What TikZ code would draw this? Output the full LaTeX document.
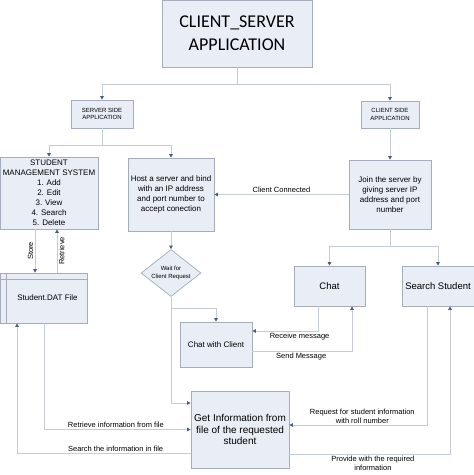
\documentclass[tikz,border=0pt]{standalone}
\usepackage{fontspec}
\setmainfont{Liberation Sans}
\newfontfamily\titlefont{Carlito}
\usepackage{tikz}
\usetikzlibrary{arrows.meta, shapes.geometric}
\definecolor{boxfill}{RGB}{232, 237, 246}
\definecolor{boxline}{RGB}{165, 172, 188}
\definecolor{flowline}{RGB}{196, 204, 218}
\definecolor{tipblue}{RGB}{72, 92, 132}

\begin{document}
\begin{tikzpicture}[
  x=1pt, y=-1pt,
  box/.style={rectangle, draw=boxline, fill=boxfill, line width=0.7pt,
              inner sep=1pt, align=center, font=\fontsize{8}{10}\selectfont},
  small/.style={font=\fontsize{6}{7.5}\selectfont},
  flow/.style={draw=flowline, line width=0.8pt,
               -{Triangle[length=3.5pt, width=3.5pt, color=tipblue]}},
  wire/.style={draw=flowline, line width=0.8pt},
  note/.style={font=\fontsize{7.5}{9}\selectfont, inner sep=1.5pt, align=center}
]
\useasboundingbox (0,0) rectangle (474,475);

% boxes
\node[box, minimum width=150pt, minimum height=67pt,
      font=\titlefont\fontsize{18}{23}\selectfont] (title) at (237,33.5) {CLIENT\_SERVER\\APPLICATION};
\node[box, small, minimum width=62pt, minimum height=28pt] (server) at (102,114) {SERVER SIDE\\APPLICATION};
\node[box, small, minimum width=58pt, minimum height=27pt] (client) at (390,114.5) {CLIENT SIDE\\APPLICATION};
\node[box, minimum width=98pt, minimum height=72pt] (sms) at (49,193)
  {STUDENT\\MANAGEMENT SYSTEM\\1. Add\\2. Edit\\3. View\\4. Search\\5. Delete};
\node[box, minimum width=86pt, minimum height=73pt] (host) at (171,194.5)
  {Host a server and bind\\with an IP address\\and port number to\\accept conection};
\node[box, minimum width=82pt, minimum height=69pt] (join) at (390,194.5)
  {Join the server by\\giving server IP\\address and port\\number};
\node[box, minimum width=87pt, minimum height=50pt] (dat) at (43.5,298) {\quad Student.DAT File};
\node[diamond, draw=boxline, fill=boxfill, line width=0.7pt, inner sep=0pt, aspect=1.3,
      minimum width=60pt, minimum height=47pt, align=center,
      font=\fontsize{6}{7.5}\selectfont] (wait) at (171,273) {Wait for\\Client Request};
\node[box, minimum width=71pt, minimum height=40pt, font=\fontsize{9.5}{11}\selectfont] (chat) at (329.5,286) {Chat};
\node[box, minimum width=72pt, minimum height=40pt, font=\fontsize{9.5}{11}\selectfont] (search) at (438,286) {Search Student};
\node[box, minimum width=72pt, minimum height=45pt] (chatc) at (216,344.5) {Chat with Client};
\node[box, minimum width=98pt, minimum height=77pt, font=\fontsize{10}{11.7}\selectfont] (getinfo) at (240,429.5)
  {Get Information from\\file of the requested\\student};

% internal storage marks
\draw[boxline, line width=0.6pt] ([xshift=7pt]dat.north west) -- ([xshift=7pt]dat.south west);
\draw[boxline, line width=0.6pt] ([yshift=-7pt]dat.north west) -- ([yshift=-7pt]dat.north east);

% tree
\coordinate (t1) at (237,84);
\coordinate (s1) at (102,145);
\coordinate (j1) at (390,246);
\draw[wire] (title) -- (t1);
\draw[flow] (t1) -| (server);
\draw[flow] (t1) -| (client);
\draw[wire] (server) -- (s1);
\draw[flow] (s1) -| (sms);
\draw[flow] (s1) -| (host);
\draw[flow] (client) -- (join);
\draw[wire] (join) -- (j1);
\draw[flow] (j1) -| (chat);
\draw[flow] (j1) -| (search);

% server side
\draw[flow] (join) -- node[note, above]{Client Connected} (host);
\draw[flow] ([xshift=-14pt]sms.south) -- node[note, rotate=90, above]{Store} ([xshift=-8.5pt]dat.north);
\draw[flow] ([xshift=13.5pt]dat.north) -- node[note, rotate=90, below]{Retrieve} ([xshift=8pt]sms.south);
\draw[flow] (host) -- (wait);
\draw[flow] (wait.south) |- ++(0,12) -| (chatc);
\draw[flow] (wait.south) |- ([yshift=26.5pt]getinfo.west);
\draw[flow] ([xshift=0.5pt]dat.south) |- node[note, above, pos=0.745]{Retrieve information from file} (getinfo.west);
\draw[flow] ([yshift=-23.5pt]getinfo.west) -| node[note, above, pos=0.216]{Search the information in file} ([xshift=-26.5pt]dat.south);

% client side
\draw[flow] ([xshift=-11.5pt]chat.south) |- node[note, below, pos=0.64]{Receive message} ([yshift=13.5pt]chatc.east);
\draw[flow] ([yshift=-6.5pt]chatc.east) -| node[note, below, pos=0.245]{Send Message} ([xshift=22.5pt]chat.south);
\draw[flow] ([xshift=-11pt]search.south) |- node[note, above, pos=0.735]{Request for student information\\with roll number} ([yshift=4.5pt]getinfo.east);
\draw[flow] ([yshift=-24.5pt]getinfo.east) -| node[note, below, pos=0.26]{Provide with the required\\information} ([xshift=12pt]search.south);
\end{tikzpicture}
\end{document}
